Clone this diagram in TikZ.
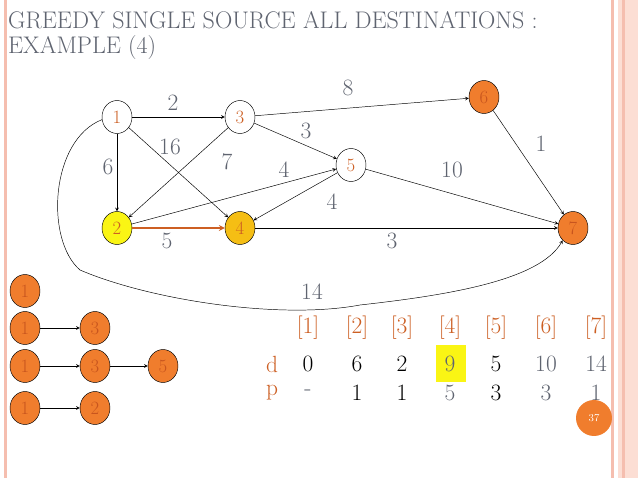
\documentclass[tikz,border=0pt]{standalone}
\usepackage{tikz}
\usetikzlibrary{arrows,shapes,positioning,calc}
\definecolor{slidegrey}{RGB}{95,100,112}
\definecolor{nodeorange}{RGB}{240,125,45}
\definecolor{numorange}{RGB}{205,95,35}
\definecolor{darkorange}{RGB}{200,85,30}
\definecolor{hilite}{RGB}{250,245,20}
\definecolor{gold}{RGB}{245,190,20}
\definecolor{pinkline}{RGB}{245,190,175}
\definecolor{pinkband}{RGB}{252,222,212}
\tikzset{
  vtx/.style={draw, ellipse, minimum width=30\mypx, minimum height=33\mypx, inner sep=0pt,
    text=numorange, font=\fontsize{16}{16}\selectfont},
  hot/.style={vtx, fill=nodeorange, text=darkorange},
  elabel/.style={text=slidegrey, font=\fontsize{20}{20}\selectfont},
  cell/.style={font=\fontsize{20}{20}\selectfont},
  edge/.style={->, >=stealth, thin}
}
\newcommand{\mypx}{pt*0.853}
\begin{document}
\begin{tikzpicture}[x=0.03cm, y=-0.03cm]
\useasboundingbox (0,0) rectangle (638,478);
\fill[white] (0,0) rectangle (638,478);
% slide borders
\fill[pinkline] (4,0) rectangle (7,478);
\fill[pinkline] (611,0) rectangle (614,478);
\fill[pinkband] (618,0) rectangle (638,478);
\fill[pinkline] (622,0) rectangle (625,478);
% title
\node[anchor=west, text=slidegrey, font=\fontsize{20.5}{20.5}\selectfont] (title1) at (4,20) {GREEDY SINGLE SOURCE ALL DESTINATIONS :};
\node[anchor=west, text=slidegrey, font=\fontsize{20.5}{20.5}\selectfont] (title2) at (4,48) {EXAMPLE (4)};

% graph
\node[vtx] (n1) at (117,117) {1};
\node[vtx] (n3) at (240,117) {3};
\node[hot] (n6) at (484,97) {6};
\node[vtx] (n5) at (351,165) {5};
\node[vtx, fill=hilite] (n2) at (117,228) {2};
\node[vtx, fill=gold] (n4) at (240,228) {4};
\node[hot] (n7) at (573,228) {7};

\draw[edge] (n1) -- (n3);
\draw[edge] (n1) -- (n2);
\draw[edge] (n1) -- (n4);
\draw[edge] (n3) -- (n6);
\draw[edge] (n3) -- (n5);
\draw[edge] (n3) -- (n2);
\draw[edge] (n2) -- (n5);
\draw[edge] (n5) -- (n4);
\draw[edge] (n5) -- (n7);
\draw[edge] (n6) -- (n7);
\draw[edge] (n4) -- (n7);
\draw[->, >=stealth, very thick, draw=numorange] (n2) -- (n4);
\draw[edge] (n1.190) .. controls (50,140) and (45,240) .. (80,270)
  .. controls (150,300) and (280,320) .. (360,305)
  .. controls (450,295) and (540,280) .. (n7.230);

\node[elabel] (w13) at (173,103) {2};
\node[elabel] (w14) at (170,147) {16};
\node[elabel] (w12) at (108,167) {6};
\node[elabel] (w32) at (227,162) {7};
\node[elabel] (w35) at (306,131) {3};
\node[elabel] (w25) at (284,170) {4};
\node[elabel] (w54) at (332,202) {4};
\node[elabel] (w57) at (452,170) {10};
\node[elabel] (w36) at (348,88) {8};
\node[elabel] (w67) at (541,144) {1};
\node[elabel] (w24) at (167,241) {5};
\node[elabel] (w47) at (392,241) {3};
\node[elabel] (w17) at (312,292) {14};

% paths found so far
\node[hot] (a1) at (25,291) {1};
\node[hot] (b1) at (25,328) {1};
\node[hot] (b3) at (95,328) {3};
\node[hot] (c1) at (25,366) {1};
\node[hot] (c3) at (95,366) {3};
\node[hot] (c5) at (163,366) {5};
\node[hot] (d1) at (25,408) {1};
\node[hot] (d2) at (95,408) {2};
\draw[edge] (b1) -- (b3);
\draw[edge] (c1) -- (c3);
\draw[edge] (c3) -- (c5);
\draw[edge] (d1) -- (d2);

% table
\fill[hilite] (436,345) rectangle (466,382);
\foreach \i/\x in {1/308,2/357,3/402,4/450,5/496,6/546,7/596}
  \node[cell, text=numorange] (h\i) at (\x,328) {[\i]};
\node[cell, text=numorange] (dlab) at (272,364) {d};
\node[cell, text=numorange] (plab) at (272,393) {p};
\foreach \i/\x/\v/\c in {1/308/0/black,2/357/6/black,3/402/2/black,4/450/9/slidegrey,5/496/5/black,6/546/10/slidegrey,7/596/14/slidegrey}
  \node[cell, text=\c] (d\i) at (\x,364) {\v};
\foreach \i/\x/\v/\c in {1/308/-/slidegrey,2/357/1/black,3/402/1/black,4/450/5/slidegrey,5/496/3/black,6/546/3/slidegrey,7/596/1/slidegrey}
  \node[cell, text=\c] (p\i) at (\x,393) {\v};

% page number
\node[circle, fill=nodeorange, minimum size=36\mypx, text=white, font=\fontsize{9}{9}\selectfont] (page) at (594,418) {37};
\end{tikzpicture}
\end{document}
